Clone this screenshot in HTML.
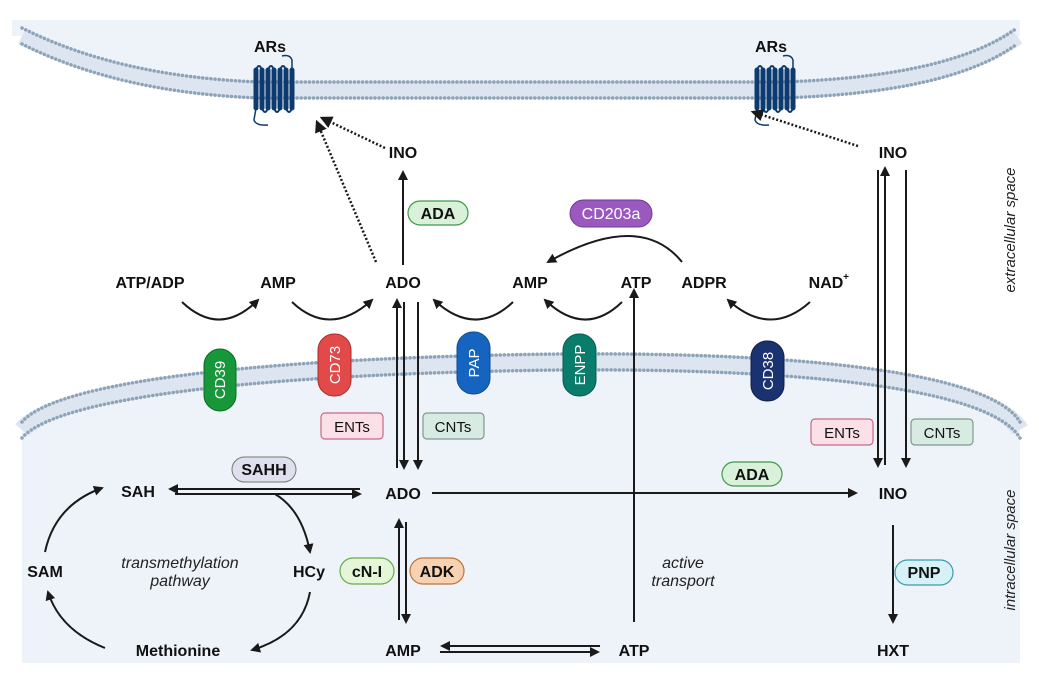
<!DOCTYPE html>
<html><head><meta charset="utf-8"><style>
html,body{margin:0;padding:0;background:#fff}
svg{display:block}
.l{font-family:"Liberation Sans",sans-serif;font-weight:bold;font-size:16px;fill:#111;text-anchor:middle}
.p{font-family:"Liberation Sans",sans-serif;font-size:15px;text-anchor:middle}
.i{font-family:"Liberation Sans",sans-serif;font-style:italic;font-size:16px;fill:#222;text-anchor:middle}
.a{stroke:#1a1a1a;stroke-width:2;fill:none}
</style></head><body>
<svg width="1039" height="674" viewBox="0 0 1039 674" xmlns="http://www.w3.org/2000/svg">
<defs>
<marker id="ar" viewBox="0 0 10 10" refX="8" refY="5" markerWidth="5" markerHeight="5" orient="auto-start-reverse"><path d="M0,0 L10,5 L0,10 Z" fill="#1a1a1a"/></marker>
<g id="rec">
<path d="M-14,-20 L-14,18 M-8,-20 L-8,18 M-2,-20 L-2,18 M4,-20 L4,18 M10,-20 L10,18 M16,-20 L16,18 M22,-20 L22,18" stroke="#0d3b70" stroke-width="5" stroke-linecap="round"/>
<path d="M-14,-20 Q-11,-28 -8,-20 M-2,-20 Q1,-28 4,-20 M10,-20 Q13,-28 16,-20 M-8,18 Q-5,26 -2,18 M4,18 Q7,26 10,18 M16,18 Q19,26 22,18" stroke="#0d3b70" stroke-width="2" fill="none"/>
<path d="M22,-20 L22,-30 Q20,-36 12,-34" stroke="#0d3b70" stroke-width="1.5" fill="none"/>
<path d="M-14,18 L-16,30 Q-14,36 -2,35" stroke="#0d3b70" stroke-width="1.5" fill="none"/>
</g>
</defs>
<path d="M12,20 L1020,20 L1020,36 Q950,85 780,90 L260,90 Q120,85 22,36 L12,36 Z" fill="#eef3f9"/>
<path d="M22,430 C60,385 300,365 560,362 C800,360 990,380 1020,430 L1020,663 L22,663 Z" fill="#eef3f9"/>
<g fill="none">
<path d="M22,36 Q120,85 260,90 L780,90 Q950,85 1017,36" stroke="#dde6f0" stroke-width="18"/>
<path d="M22,28 Q120,77 260,82 L780,82 Q950,77 1017,28" stroke="#8ea3b8" stroke-width="3.5" stroke-dasharray="0.1 4" stroke-linecap="round"/>
<path d="M22,44 Q120,93 260,98 L780,98 Q950,93 1017,44" stroke="#8ea3b8" stroke-width="3.5" stroke-dasharray="0.1 4" stroke-linecap="round"/>
<path d="M22,430 C60,385 300,365 560,362 C800,360 990,380 1020,430" stroke="#dde6f0" stroke-width="18"/>
<path d="M22,422 C60,377 300,357 560,354 C800,352 990,372 1020,422" stroke="#8ea3b8" stroke-width="3.5" stroke-dasharray="0.1 4" stroke-linecap="round"/>
<path d="M22,438 C60,393 300,373 560,370 C800,368 990,388 1020,438" stroke="#8ea3b8" stroke-width="3.5" stroke-dasharray="0.1 4" stroke-linecap="round"/>
</g>
<use href="#rec" x="270" y="90"/>
<use href="#rec" x="771" y="90"/>
<text class="l" x="270" y="52">ARs</text>
<text class="l" x="771" y="52">ARs</text>

<path d="M376,262 L317,122" stroke="#1a1a1a" stroke-width="2.5" stroke-dasharray="2 2" fill="none" marker-end="url(#ar)"/>
<path d="M385,148 L322,118" stroke="#1a1a1a" stroke-width="2.5" stroke-dasharray="2 2" fill="none" marker-end="url(#ar)"/>
<path d="M858,146 L753,112" stroke="#1a1a1a" stroke-width="2.5" stroke-dasharray="2 2" fill="none" marker-end="url(#ar)"/>

<g class="a">
<path d="M403,265 L403,172" marker-end="url(#ar)"/>
<path d="M397,468 L397,300" marker-end="url(#ar)"/>
<path d="M404,302 L404,468" marker-end="url(#ar)"/>
<path d="M418,302 L418,468" marker-end="url(#ar)"/>
<path d="M885,465 L885,168" marker-end="url(#ar)"/>
<path d="M878,170 L878,466" marker-end="url(#ar)"/>
<path d="M906,170 L906,466" marker-end="url(#ar)"/>
<path d="M432,493 L856,493" marker-end="url(#ar)"/>
<path d="M360,489 L170,489" marker-end="url(#ar)"/>
<path d="M175,494 L360,494" marker-end="url(#ar)"/>
<path d="M275,494 Q302,510 310,552" marker-end="url(#ar)"/>
<path d="M310,592 Q302,635 252,650" marker-end="url(#ar)"/>
<path d="M105,648 Q60,630 48,592" marker-end="url(#ar)"/>
<path d="M45,552 Q55,505 102,488" marker-end="url(#ar)"/>
<path d="M399,620 L399,520" marker-end="url(#ar)"/>
<path d="M406,522 L406,622" marker-end="url(#ar)"/>
<path d="M600,646 L442,646" marker-end="url(#ar)"/>
<path d="M440,652 L598,652" marker-end="url(#ar)"/>
<path d="M634,622 L634,290" marker-end="url(#ar)"/>
<path d="M893,525 L893,622" marker-end="url(#ar)"/>
<path d="M182,302 Q220,338 258,300" marker-end="url(#ar)"/>
<path d="M292,302 Q330,338 372,300" marker-end="url(#ar)"/>
<path d="M513,302 Q475,338 434,300" marker-end="url(#ar)"/>
<path d="M622,302 Q585,338 545,300" marker-end="url(#ar)"/>
<path d="M810,302 Q770,338 728,300" marker-end="url(#ar)"/>
<path d="M682,262 Q640,210 548,262" marker-end="url(#ar)"/>
</g>

<text class="l" x="403" y="158">INO</text>
<text class="l" x="893" y="158">INO</text>
<text class="l" x="150" y="288">ATP/ADP</text>
<text class="l" x="278" y="288">AMP</text>
<text class="l" x="403" y="288">ADO</text>
<text class="l" x="530" y="288">AMP</text>
<text class="l" x="636" y="288">ATP</text>
<text class="l" x="704" y="288">ADPR</text>
<text class="l" x="826" y="288">NAD</text><text class="l" x="846" y="280" style="font-size:10px">+</text>
<text class="l" x="138" y="497">SAH</text>
<text class="l" x="403" y="499">ADO</text>
<text class="l" x="893" y="499">INO</text>
<text class="l" x="45" y="577">SAM</text>
<text class="l" x="309" y="577">HCy</text>
<text class="l" x="178" y="656">Methionine</text>
<text class="l" x="403" y="656">AMP</text>
<text class="l" x="634" y="656">ATP</text>
<text class="l" x="893" y="656">HXT</text>
<text class="i" x="180" y="568">transmethylation</text>
<text class="i" x="180" y="586">pathway</text>
<text class="i" x="683" y="568">active</text>
<text class="i" x="683" y="586">transport</text>
<text class="i" x="0" y="0" transform="translate(1015,230) rotate(-90)" style="font-size:15px">extracellular space</text>
<text class="i" x="0" y="0" transform="translate(1015,550) rotate(-90)" style="font-size:15px">intracellular space</text>

<rect x="408" y="201" width="60" height="24" rx="12" fill="#d9f0d9" stroke="#3f9a4a" stroke-width="1.2"/>
<text class="l" x="438" y="219">ADA</text>
<rect x="722" y="462" width="60" height="24" rx="12" fill="#d9f0d9" stroke="#3f9a4a" stroke-width="1.2"/>
<text class="l" x="752" y="480">ADA</text>
<rect x="570" y="200" width="82" height="27" rx="13.5" fill="#9b59c0" stroke="#6e3b8f" stroke-width="1"/>
<text class="p" x="611" y="219" fill="#fff" style="font-size:16px">CD203a</text>
<rect x="232" y="457" width="64" height="25" rx="12.5" fill="#dfe0ee" stroke="#777" stroke-width="1"/>
<text class="l" x="264" y="475">SAHH</text>
<rect x="340" y="558" width="54" height="26" rx="13" fill="#e4f5d8" stroke="#6aaa48" stroke-width="1.2"/>
<text class="l" x="367" y="577">cN-I</text>
<rect x="410" y="558" width="54" height="26" rx="13" fill="#f7d2b2" stroke="#c0743a" stroke-width="1.2"/>
<text class="l" x="437" y="577">ADK</text>
<rect x="895" y="560" width="58" height="25" rx="12.5" fill="#d6f2f7" stroke="#3a9ab0" stroke-width="1.2"/>
<text class="l" x="924" y="578">PNP</text>

<rect x="321" y="413" width="62" height="26" rx="4" fill="#fbe0e8" stroke="#c56a85" stroke-width="1.2"/>
<text class="p" x="352" y="432" fill="#111">ENTs</text>
<rect x="423" y="413" width="61" height="26" rx="4" fill="#d8ebe3" stroke="#7a9a8c" stroke-width="1.2"/>
<text class="p" x="453" y="432" fill="#111">CNTs</text>
<rect x="811" y="419" width="62" height="26" rx="4" fill="#fbe0e8" stroke="#c56a85" stroke-width="1.2"/>
<text class="p" x="842" y="438" fill="#111">ENTs</text>
<rect x="911" y="419" width="62" height="26" rx="4" fill="#d8ebe3" stroke="#7a9a8c" stroke-width="1.2"/>
<text class="p" x="942" y="438" fill="#111">CNTs</text>

<g>
<rect x="204" y="349" width="32" height="62" rx="16" fill="#17963a" stroke="#0c6a26"/>
<text class="p" fill="#fff" transform="translate(225,380) rotate(-90)" x="0" y="0">CD39</text>
<rect x="318" y="334" width="33" height="62" rx="16" fill="#e24a4a" stroke="#a82a2a"/>
<text class="p" fill="#fff" transform="translate(340,365) rotate(-90)" x="0" y="0">CD73</text>
<rect x="457" y="332" width="33" height="62" rx="16" fill="#1565c0" stroke="#0d4a90"/>
<text class="p" fill="#fff" transform="translate(479,363) rotate(-90)" x="0" y="0">PAP</text>
<rect x="563" y="334" width="33" height="62" rx="16" fill="#0a7c6c" stroke="#065a4e"/>
<text class="p" fill="#fff" transform="translate(585,365) rotate(-90)" x="0" y="0">ENPP</text>
<rect x="751" y="341" width="33" height="60" rx="16" fill="#1a3270" stroke="#0e1f4c"/>
<text class="p" fill="#fff" transform="translate(773,371) rotate(-90)" x="0" y="0">CD38</text>
</g>
</svg>
</body></html>
